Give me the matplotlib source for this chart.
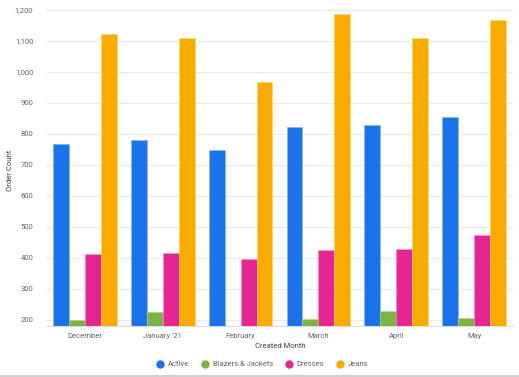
import numpy as np
import matplotlib
matplotlib.use("Agg")
import matplotlib.pyplot as plt
from matplotlib.lines import Line2D

plt.rcParams['font.family'] = ['Roboto', 'DejaVu Sans']

months = ["December", "January '21", "February", "March", "April", "May"]
series = ["Active", "Blazers & Jackets", "Dresses", "Jeans"]
active = [766, 779, 748, 823, 829, 853]
blazers = [199, 224, np.nan, 202, 227, 205]
dresses = [412, 416, 397, 426, 427, 474]
jeans = [1121, 1110, 966, 1188, 1110, 1168]
colors = ["#1a73e8", "#7cb342", "#e52592", "#f9ab00"]
edges = ["#8ab4f8", "#aed581", "#f48fc4", "#fdd663"]
yticks = [200, 300, 400, 500, 600, 700, 800, 900, 1000, 1100, 1200]

fig = plt.figure(figsize=(5.19, 3.77), dpi=100)
ax = fig.add_axes([46/519, 1-326/377, (513-46)/519, (326-8)/377])

x = np.arange(len(months))
w = 0.205
data = [active, blazers, dresses, jeans]
bottom = 180
for i, (vals, c, e) in enumerate(zip(data, colors, edges)):
    v = np.array(vals, dtype=float)
    ax.bar(x + (i - 1.5) * w, v - bottom, bottom=bottom, width=w, color=c,
           edgecolor=e, linewidth=0.4, zorder=3)

ax.set_xlim(-0.5, len(months) - 0.5)
ax.set_ylim(bottom, 1206)
ax.set_yticks(yticks)
ax.set_yticklabels([f"{t:,}" for t in yticks])
ax.set_xticks(x)
ax.set_xticklabels(months)
ax.tick_params(axis='both', length=0, labelsize=5.5, colors="#5f6368")
ax.tick_params(axis='y', pad=9)
ax.tick_params(axis='x', pad=5)
ax.grid(axis='y', color="#e8eaed", linewidth=0.8, zorder=0)
for s in ['top', 'right', 'left']:
    ax.spines[s].set_visible(False)
ax.spines['bottom'].set_color("#dadce0")
ax.spines['bottom'].set_linewidth(0.8)

fig.text(10/519, 1-170/377, "Order Count", rotation=90, ha='center', va='center',
         fontsize=5.5, color="#3c4043")
fig.text(280/519, 1-346/377, "Created Month", ha='center', va='center',
         fontsize=5.5, color="#3c4043")

handles = [Line2D([0], [0], marker='o', linestyle='', markersize=5,
                  markerfacecolor=c, markeredgecolor=c) for c in colors]
fig.legend(handles, series, loc='center', bbox_to_anchor=(262/519, 1-364/377),
           ncol=4, frameon=False, fontsize=5.5, handlelength=1.2,
           handletextpad=0.4, columnspacing=1.5, labelcolor="#5f6368")

fig.add_artist(Line2D([0, 1], [1.5/377, 1.5/377], color="#d0d0d0", linewidth=1.5,
                      transform=fig.transFigure))

fig.savefig("out.png", dpi=100)
